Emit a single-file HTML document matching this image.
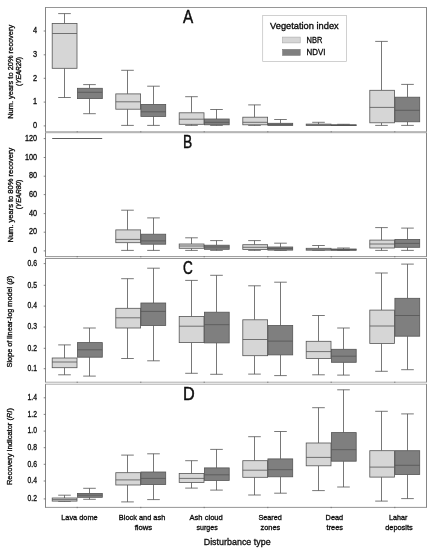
<!DOCTYPE html>
<html lang="en"><head><meta charset="utf-8"><title>Recovery by disturbance type</title>
<style>html,body{margin:0;padding:0;background:#fff}svg{display:block}text{font-family:"Liberation Sans","DejaVu Sans",sans-serif;fill:#0c0c0c;stroke:#0c0c0c;stroke-width:0.32px}</style></head><body>
<svg width="430" height="550" viewBox="0 0 430 550">
<rect width="430" height="550" fill="#fff"/>
<path d="M45.0 7.5H426.9" stroke="#8a8a8a" stroke-width="0.9"/>
<path d="M45.0 131.7H426.9" stroke="#8a8a8a" stroke-width="0.7"/>
<path d="M45.5 7.5V131.7M426.5 7.5V131.7" stroke="#777" stroke-width="0.9"/>
<line x1="43.7" y1="31.0" x2="45.5" y2="31.0" stroke="#666" stroke-width="0.8"/>
<text x="32.9" y="33.2" font-size="8.3" textLength="4.1" lengthAdjust="spacingAndGlyphs">4</text>
<line x1="43.7" y1="54.8" x2="45.5" y2="54.8" stroke="#666" stroke-width="0.8"/>
<text x="32.9" y="57.0" font-size="8.3" textLength="4.1" lengthAdjust="spacingAndGlyphs">3</text>
<line x1="43.7" y1="78.3" x2="45.5" y2="78.3" stroke="#666" stroke-width="0.8"/>
<text x="32.9" y="80.5" font-size="8.3" textLength="4.1" lengthAdjust="spacingAndGlyphs">2</text>
<line x1="43.7" y1="102.1" x2="45.5" y2="102.1" stroke="#666" stroke-width="0.8"/>
<text x="32.9" y="104.3" font-size="8.3" textLength="4.1" lengthAdjust="spacingAndGlyphs">1</text>
<line x1="43.7" y1="125.9" x2="45.5" y2="125.9" stroke="#666" stroke-width="0.8"/>
<text x="32.9" y="128.1" font-size="8.3" textLength="4.1" lengthAdjust="spacingAndGlyphs">0</text>
<line x1="77.2" y1="131.1" x2="77.2" y2="132.5" stroke="#555" stroke-width="0.6"/>
<line x1="140.8" y1="131.1" x2="140.8" y2="132.5" stroke="#555" stroke-width="0.6"/>
<line x1="204.2" y1="131.1" x2="204.2" y2="132.5" stroke="#555" stroke-width="0.6"/>
<line x1="267.8" y1="131.1" x2="267.8" y2="132.5" stroke="#555" stroke-width="0.6"/>
<line x1="331.2" y1="131.1" x2="331.2" y2="132.5" stroke="#555" stroke-width="0.6"/>
<line x1="394.8" y1="131.1" x2="394.8" y2="132.5" stroke="#555" stroke-width="0.6"/>
<g stroke="#555" stroke-width="0.8" fill="none">
<path d="M64.5 23.5V13.6M58.2 13.6H70.8"/>
<path d="M64.5 68.3V97.5M58.2 97.5H70.8"/>
<rect x="52.2" y="23.5" width="24.8" height="44.8" fill="#d6d6d6"/>
<path d="M52.2 33.5H77.0"/>
</g>
<g stroke="#555" stroke-width="0.8" fill="none">
<path d="M89.5 88.3V84.6M83.2 84.6H95.8"/>
<path d="M89.5 98.6V113.7M83.2 113.7H95.8"/>
<rect x="77.5" y="88.3" width="24.8" height="10.3" fill="#7f7f7f"/>
<path d="M77.5 92.3H102.2"/>
</g>
<g stroke="#555" stroke-width="0.8" fill="none">
<path d="M127.5 93.9V70.3M121.2 70.3H133.8"/>
<path d="M127.5 109.2V125.4M121.2 125.4H133.8"/>
<rect x="115.8" y="93.9" width="24.8" height="15.3" fill="#d6d6d6"/>
<path d="M115.8 101.8H140.6"/>
</g>
<g stroke="#555" stroke-width="0.8" fill="none">
<path d="M153.5 104.4V86.2M147.2 86.2H159.8"/>
<path d="M153.5 116.4V125.4M147.2 125.4H159.8"/>
<rect x="140.9" y="104.4" width="24.8" height="12.0" fill="#7f7f7f"/>
<path d="M140.9 111.8H165.8"/>
</g>
<g stroke="#555" stroke-width="0.8" fill="none">
<path d="M191.5 112.8V96.7M185.2 96.7H197.8"/>
<path d="M191.5 124.3V125.4M185.2 125.4H197.8"/>
<rect x="179.2" y="112.8" width="24.8" height="11.5" fill="#d6d6d6"/>
<path d="M179.2 119.2H204.1"/>
</g>
<g stroke="#555" stroke-width="0.8" fill="none">
<path d="M216.5 119.0V109.5M210.2 109.5H222.8"/>
<path d="M216.5 124.8V125.4M210.2 125.4H222.8"/>
<rect x="204.4" y="119.0" width="24.8" height="5.8" fill="#7f7f7f"/>
<path d="M204.4 122.3H229.2"/>
</g>
<g stroke="#555" stroke-width="0.8" fill="none">
<path d="M254.5 117.2V104.9M248.2 104.9H260.8"/>
<path d="M254.5 124.8V125.4M248.2 125.4H260.8"/>
<rect x="242.8" y="117.2" width="24.8" height="7.6" fill="#d6d6d6"/>
<path d="M242.8 122.3H267.6"/>
</g>
<g stroke="#555" stroke-width="0.8" fill="none">
<path d="M280.5 123.3V119.5M274.2 119.5H286.8"/>
<rect x="267.9" y="123.3" width="24.8" height="2.1" fill="#7f7f7f"/>
<path d="M267.9 124.6H292.8"/>
</g>
<g stroke="#555" stroke-width="0.8" fill="none">
<path d="M318.5 124.1V122.3M312.2 122.3H324.8"/>
<rect x="306.2" y="124.1" width="24.8" height="1.3" fill="#d6d6d6"/>
<path d="M306.2 124.8H331.1"/>
</g>
<g stroke="#555" stroke-width="0.8" fill="none">
<path d="M343.5 124.8V124.3M337.2 124.3H349.8"/>
<rect x="331.4" y="124.8" width="24.8" height="0.8" fill="#7f7f7f"/>
<path d="M331.4 125.2H356.2"/>
</g>
<g stroke="#555" stroke-width="0.8" fill="none">
<path d="M381.5 90.3V41.4M375.2 41.4H387.8"/>
<path d="M381.5 122.8V125.4M375.2 125.4H387.8"/>
<rect x="369.8" y="90.3" width="24.8" height="32.5" fill="#d6d6d6"/>
<path d="M369.8 107.4H394.6"/>
</g>
<g stroke="#555" stroke-width="0.8" fill="none">
<path d="M407.5 97.2V84.4M401.2 84.4H413.8"/>
<path d="M407.5 121.8V125.4M401.2 125.4H413.8"/>
<rect x="394.9" y="97.2" width="24.8" height="24.6" fill="#7f7f7f"/>
<path d="M394.9 110.3H419.8"/>
</g>
<text x="183.10" y="23.4" font-size="18" textLength="10.2" lengthAdjust="spacingAndGlyphs" style="stroke-width:0.45px">A</text>
<path d="M45.0 132.7H426.9" stroke="#8a8a8a" stroke-width="0.7"/>
<path d="M45.0 256.6H426.9" stroke="#8a8a8a" stroke-width="0.9"/>
<path d="M45.5 132.7V256.6M426.5 132.7V256.6" stroke="#777" stroke-width="0.9"/>
<line x1="43.7" y1="138.6" x2="45.5" y2="138.6" stroke="#666" stroke-width="0.8"/>
<text x="24.9" y="140.8" font-size="8.3" textLength="12.1" lengthAdjust="spacingAndGlyphs">120</text>
<line x1="43.7" y1="157.5" x2="45.5" y2="157.5" stroke="#666" stroke-width="0.8"/>
<text x="24.9" y="159.7" font-size="8.3" textLength="12.1" lengthAdjust="spacingAndGlyphs">100</text>
<line x1="43.7" y1="176.2" x2="45.5" y2="176.2" stroke="#666" stroke-width="0.8"/>
<text x="28.9" y="178.4" font-size="8.3" textLength="8.1" lengthAdjust="spacingAndGlyphs">80</text>
<line x1="43.7" y1="194.6" x2="45.5" y2="194.6" stroke="#666" stroke-width="0.8"/>
<text x="28.9" y="196.8" font-size="8.3" textLength="8.1" lengthAdjust="spacingAndGlyphs">60</text>
<line x1="43.7" y1="213.6" x2="45.5" y2="213.6" stroke="#666" stroke-width="0.8"/>
<text x="28.9" y="215.8" font-size="8.3" textLength="8.1" lengthAdjust="spacingAndGlyphs">40</text>
<line x1="43.7" y1="232.2" x2="45.5" y2="232.2" stroke="#666" stroke-width="0.8"/>
<text x="28.9" y="234.4" font-size="8.3" textLength="8.1" lengthAdjust="spacingAndGlyphs">20</text>
<line x1="43.7" y1="250.9" x2="45.5" y2="250.9" stroke="#666" stroke-width="0.8"/>
<text x="32.9" y="253.1" font-size="8.3" textLength="4.1" lengthAdjust="spacingAndGlyphs">0</text>
<line x1="77.2" y1="256.0" x2="77.2" y2="257.4" stroke="#555" stroke-width="0.6"/>
<line x1="140.8" y1="256.0" x2="140.8" y2="257.4" stroke="#555" stroke-width="0.6"/>
<line x1="204.2" y1="256.0" x2="204.2" y2="257.4" stroke="#555" stroke-width="0.6"/>
<line x1="267.8" y1="256.0" x2="267.8" y2="257.4" stroke="#555" stroke-width="0.6"/>
<line x1="331.2" y1="256.0" x2="331.2" y2="257.4" stroke="#555" stroke-width="0.6"/>
<line x1="394.8" y1="256.0" x2="394.8" y2="257.4" stroke="#555" stroke-width="0.6"/>
<g stroke="#555" stroke-width="0.8" fill="none">
<path d="M52.2 138.5H102.2" stroke="#4a4a4a" stroke-width="0.9"/>
</g>
<g stroke="#555" stroke-width="0.8" fill="none">
</g>
<g stroke="#555" stroke-width="0.8" fill="none">
<path d="M127.5 229.9V210.2M121.2 210.2H133.8"/>
<path d="M127.5 242.7V250.4M121.2 250.4H133.8"/>
<rect x="115.8" y="229.9" width="24.8" height="12.8" fill="#d6d6d6"/>
<path d="M115.8 239.4H140.6"/>
</g>
<g stroke="#555" stroke-width="0.8" fill="none">
<path d="M153.5 234.2V217.9M147.2 217.9H159.8"/>
<path d="M153.5 244.2V250.4M147.2 250.4H159.8"/>
<rect x="140.9" y="234.2" width="24.8" height="10.0" fill="#7f7f7f"/>
<path d="M140.9 240.9H165.8"/>
</g>
<g stroke="#555" stroke-width="0.8" fill="none">
<path d="M191.5 244.0V237.8M185.2 237.8H197.8"/>
<path d="M191.5 248.3V250.4M185.2 250.4H197.8"/>
<rect x="179.2" y="244.0" width="24.8" height="4.3" fill="#d6d6d6"/>
<path d="M179.2 246.0H204.1"/>
</g>
<g stroke="#555" stroke-width="0.8" fill="none">
<path d="M216.5 245.2V240.6M210.2 240.6H222.8"/>
<path d="M216.5 249.3V250.4M210.2 250.4H222.8"/>
<rect x="204.4" y="245.2" width="24.8" height="4.1" fill="#7f7f7f"/>
<path d="M204.4 247.0H229.2"/>
</g>
<g stroke="#555" stroke-width="0.8" fill="none">
<path d="M254.5 244.7V240.6M248.2 240.6H260.8"/>
<path d="M254.5 249.6V250.4M248.2 250.4H260.8"/>
<rect x="242.8" y="244.7" width="24.8" height="4.9" fill="#d6d6d6"/>
<path d="M242.8 247.3H267.6"/>
</g>
<g stroke="#555" stroke-width="0.8" fill="none">
<path d="M280.5 247.0V243.2M274.2 243.2H286.8"/>
<path d="M280.5 250.1V250.4M274.2 250.4H286.8"/>
<rect x="267.9" y="247.0" width="24.8" height="3.1" fill="#7f7f7f"/>
<path d="M267.9 248.5H292.8"/>
</g>
<g stroke="#555" stroke-width="0.8" fill="none">
<path d="M318.5 248.3V245.5M312.2 245.5H324.8"/>
<path d="M318.5 250.2V250.4M312.2 250.4H324.8"/>
<rect x="306.2" y="248.3" width="24.8" height="1.9" fill="#d6d6d6"/>
<path d="M306.2 249.3H331.1"/>
</g>
<g stroke="#555" stroke-width="0.8" fill="none">
<path d="M343.5 249.0V248.0M337.2 248.0H349.8"/>
<path d="M343.5 250.3V250.4M337.2 250.4H349.8"/>
<rect x="331.4" y="249.0" width="24.8" height="1.3" fill="#7f7f7f"/>
<path d="M331.4 249.6H356.2"/>
</g>
<g stroke="#555" stroke-width="0.8" fill="none">
<path d="M381.5 240.1V227.6M375.2 227.6H387.8"/>
<path d="M381.5 248.0V250.4M375.2 250.4H387.8"/>
<rect x="369.8" y="240.1" width="24.8" height="7.9" fill="#d6d6d6"/>
<path d="M369.8 244.0H394.6"/>
</g>
<g stroke="#555" stroke-width="0.8" fill="none">
<path d="M407.5 239.4V228.1M401.2 228.1H413.8"/>
<path d="M407.5 247.3V250.4M401.2 250.4H413.8"/>
<rect x="394.9" y="239.4" width="24.8" height="7.9" fill="#7f7f7f"/>
<path d="M394.9 243.4H419.8"/>
</g>
<text x="183.10" y="148.4" font-size="18" textLength="9.2" lengthAdjust="spacingAndGlyphs" style="stroke-width:0.45px">B</text>
<path d="M45.0 258.5H426.9" stroke="#8a8a8a" stroke-width="0.9"/>
<path d="M45.0 382.2H426.9" stroke="#8a8a8a" stroke-width="0.7"/>
<path d="M45.5 258.5V382.2M426.5 258.5V382.2" stroke="#777" stroke-width="0.9"/>
<line x1="43.7" y1="263.6" x2="45.5" y2="263.6" stroke="#666" stroke-width="0.8"/>
<text x="27.6" y="265.8" font-size="8.3" textLength="9.4" lengthAdjust="spacingAndGlyphs">0.6</text>
<line x1="43.7" y1="285.3" x2="45.5" y2="285.3" stroke="#666" stroke-width="0.8"/>
<text x="27.6" y="287.5" font-size="8.3" textLength="9.4" lengthAdjust="spacingAndGlyphs">0.5</text>
<line x1="43.7" y1="306.1" x2="45.5" y2="306.1" stroke="#666" stroke-width="0.8"/>
<text x="27.6" y="308.3" font-size="8.3" textLength="9.4" lengthAdjust="spacingAndGlyphs">0.4</text>
<line x1="43.7" y1="327.0" x2="45.5" y2="327.0" stroke="#666" stroke-width="0.8"/>
<text x="27.6" y="329.2" font-size="8.3" textLength="9.4" lengthAdjust="spacingAndGlyphs">0.3</text>
<line x1="43.7" y1="348.3" x2="45.5" y2="348.3" stroke="#666" stroke-width="0.8"/>
<text x="27.6" y="350.5" font-size="8.3" textLength="9.4" lengthAdjust="spacingAndGlyphs">0.2</text>
<line x1="43.7" y1="368.7" x2="45.5" y2="368.7" stroke="#666" stroke-width="0.8"/>
<text x="27.6" y="370.9" font-size="8.3" textLength="9.4" lengthAdjust="spacingAndGlyphs">0.1</text>
<line x1="77.2" y1="381.6" x2="77.2" y2="383.0" stroke="#555" stroke-width="0.6"/>
<line x1="140.8" y1="381.6" x2="140.8" y2="383.0" stroke="#555" stroke-width="0.6"/>
<line x1="204.2" y1="381.6" x2="204.2" y2="383.0" stroke="#555" stroke-width="0.6"/>
<line x1="267.8" y1="381.6" x2="267.8" y2="383.0" stroke="#555" stroke-width="0.6"/>
<line x1="331.2" y1="381.6" x2="331.2" y2="383.0" stroke="#555" stroke-width="0.6"/>
<line x1="394.8" y1="381.6" x2="394.8" y2="383.0" stroke="#555" stroke-width="0.6"/>
<g stroke="#555" stroke-width="0.8" fill="none">
<path d="M64.5 358.0V344.9M58.2 344.9H70.8"/>
<path d="M64.5 367.7V374.8M58.2 374.8H70.8"/>
<rect x="52.2" y="358.0" width="24.8" height="9.7" fill="#d6d6d6"/>
<path d="M52.2 362.0H77.0"/>
</g>
<g stroke="#555" stroke-width="0.8" fill="none">
<path d="M89.5 342.6V328.0M83.2 328.0H95.8"/>
<path d="M89.5 357.2V376.1M83.2 376.1H95.8"/>
<rect x="77.5" y="342.6" width="24.8" height="14.6" fill="#7f7f7f"/>
<path d="M77.5 349.8H102.2"/>
</g>
<g stroke="#555" stroke-width="0.8" fill="none">
<path d="M127.5 308.3V278.7M121.2 278.7H133.8"/>
<path d="M127.5 328.0V358.5M121.2 358.5H133.8"/>
<rect x="115.8" y="308.3" width="24.8" height="19.7" fill="#d6d6d6"/>
<path d="M115.8 317.8H140.6"/>
</g>
<g stroke="#555" stroke-width="0.8" fill="none">
<path d="M153.5 303.0V268.2M147.2 268.2H159.8"/>
<path d="M153.5 325.5V360.8M147.2 360.8H159.8"/>
<rect x="140.9" y="303.0" width="24.8" height="22.5" fill="#7f7f7f"/>
<path d="M140.9 311.4H165.8"/>
</g>
<g stroke="#555" stroke-width="0.8" fill="none">
<path d="M191.5 316.5V280.4M185.2 280.4H197.8"/>
<path d="M191.5 342.6V373.3M185.2 373.3H197.8"/>
<rect x="179.2" y="316.5" width="24.8" height="26.1" fill="#d6d6d6"/>
<path d="M179.2 326.2H204.1"/>
</g>
<g stroke="#555" stroke-width="0.8" fill="none">
<path d="M216.5 312.2V275.3M210.2 275.3H222.8"/>
<path d="M216.5 342.9V374.3M210.2 374.3H222.8"/>
<rect x="204.4" y="312.2" width="24.8" height="30.7" fill="#7f7f7f"/>
<path d="M204.4 324.7H229.2"/>
</g>
<g stroke="#555" stroke-width="0.8" fill="none">
<path d="M254.5 319.8V285.8M248.2 285.8H260.8"/>
<path d="M254.5 355.7V374.1M248.2 374.1H260.8"/>
<rect x="242.8" y="319.8" width="24.8" height="35.9" fill="#d6d6d6"/>
<path d="M242.8 339.5H267.6"/>
</g>
<g stroke="#555" stroke-width="0.8" fill="none">
<path d="M280.5 325.5V282.2M274.2 282.2H286.8"/>
<path d="M280.5 354.9V375.6M274.2 375.6H286.8"/>
<rect x="267.9" y="325.5" width="24.8" height="29.4" fill="#7f7f7f"/>
<path d="M267.9 341.1H292.8"/>
</g>
<g stroke="#555" stroke-width="0.8" fill="none">
<path d="M318.5 341.3V315.5M312.2 315.5H324.8"/>
<path d="M318.5 358.5V374.8M312.2 374.8H324.8"/>
<rect x="306.2" y="341.3" width="24.8" height="17.2" fill="#d6d6d6"/>
<path d="M306.2 351.6H331.1"/>
</g>
<g stroke="#555" stroke-width="0.8" fill="none">
<path d="M343.5 349.3V328.0M337.2 328.0H349.8"/>
<path d="M343.5 362.3V375.1M337.2 375.1H349.8"/>
<rect x="331.4" y="349.3" width="24.8" height="13.0" fill="#7f7f7f"/>
<path d="M331.4 356.2H356.2"/>
</g>
<g stroke="#555" stroke-width="0.8" fill="none">
<path d="M381.5 310.1V273.0M375.2 273.0H387.8"/>
<path d="M381.5 343.4V371.3M375.2 371.3H387.8"/>
<rect x="369.8" y="310.1" width="24.8" height="33.3" fill="#d6d6d6"/>
<path d="M369.8 326.0H394.6"/>
</g>
<g stroke="#555" stroke-width="0.8" fill="none">
<path d="M407.5 298.3V264.1M401.2 264.1H413.8"/>
<path d="M407.5 336.2V369.7M401.2 369.7H413.8"/>
<rect x="394.9" y="298.3" width="24.8" height="37.9" fill="#7f7f7f"/>
<path d="M394.9 315.5H419.8"/>
</g>
<text x="183.10" y="274.4" font-size="18" textLength="9.8" lengthAdjust="spacingAndGlyphs" style="stroke-width:0.45px">C</text>
<path d="M45.0 384.2H426.9" stroke="#8a8a8a" stroke-width="0.7"/>
<path d="M45.0 507.4H426.9" stroke="#8a8a8a" stroke-width="0.9"/>
<path d="M45.5 384.2V507.4M426.5 384.2V507.4" stroke="#777" stroke-width="0.9"/>
<line x1="43.7" y1="397.8" x2="45.5" y2="397.8" stroke="#666" stroke-width="0.8"/>
<text x="27.6" y="400.0" font-size="8.3" textLength="9.4" lengthAdjust="spacingAndGlyphs">1.4</text>
<line x1="43.7" y1="414.4" x2="45.5" y2="414.4" stroke="#666" stroke-width="0.8"/>
<text x="27.6" y="416.6" font-size="8.3" textLength="9.4" lengthAdjust="spacingAndGlyphs">1.2</text>
<line x1="43.7" y1="431.1" x2="45.5" y2="431.1" stroke="#666" stroke-width="0.8"/>
<text x="27.6" y="433.3" font-size="8.3" textLength="9.4" lengthAdjust="spacingAndGlyphs">1.0</text>
<line x1="43.7" y1="447.7" x2="45.5" y2="447.7" stroke="#666" stroke-width="0.8"/>
<text x="27.6" y="449.9" font-size="8.3" textLength="9.4" lengthAdjust="spacingAndGlyphs">0.8</text>
<line x1="43.7" y1="464.3" x2="45.5" y2="464.3" stroke="#666" stroke-width="0.8"/>
<text x="27.6" y="466.5" font-size="8.3" textLength="9.4" lengthAdjust="spacingAndGlyphs">0.6</text>
<line x1="43.7" y1="481.0" x2="45.5" y2="481.0" stroke="#666" stroke-width="0.8"/>
<text x="27.6" y="483.2" font-size="8.3" textLength="9.4" lengthAdjust="spacingAndGlyphs">0.4</text>
<line x1="43.7" y1="498.9" x2="45.5" y2="498.9" stroke="#666" stroke-width="0.8"/>
<text x="27.6" y="501.1" font-size="8.3" textLength="9.4" lengthAdjust="spacingAndGlyphs">0.2</text>
<line x1="77.2" y1="506.8" x2="77.2" y2="508.2" stroke="#555" stroke-width="0.6"/>
<line x1="140.8" y1="506.8" x2="140.8" y2="508.2" stroke="#555" stroke-width="0.6"/>
<line x1="204.2" y1="506.8" x2="204.2" y2="508.2" stroke="#555" stroke-width="0.6"/>
<line x1="267.8" y1="506.8" x2="267.8" y2="508.2" stroke="#555" stroke-width="0.6"/>
<line x1="331.2" y1="506.8" x2="331.2" y2="508.2" stroke="#555" stroke-width="0.6"/>
<line x1="394.8" y1="506.8" x2="394.8" y2="508.2" stroke="#555" stroke-width="0.6"/>
<g stroke="#555" stroke-width="0.8" fill="none">
<path d="M64.5 498.0V495.2M58.2 495.2H70.8"/>
<path d="M64.5 501.1V501.4M58.2 501.4H70.8"/>
<rect x="52.2" y="498.0" width="24.8" height="3.1" fill="#d6d6d6"/>
<path d="M52.2 499.6H77.0"/>
</g>
<g stroke="#555" stroke-width="0.8" fill="none">
<path d="M89.5 493.4V488.3M83.2 488.3H95.8"/>
<path d="M89.5 497.3V499.3M83.2 499.3H95.8"/>
<rect x="77.5" y="493.4" width="24.8" height="3.9" fill="#7f7f7f"/>
<path d="M77.5 495.2H102.2"/>
</g>
<g stroke="#555" stroke-width="0.8" fill="none">
<path d="M127.5 472.7V455.1M121.2 455.1H133.8"/>
<path d="M127.5 485.0V501.9M121.2 501.9H133.8"/>
<rect x="115.8" y="472.7" width="24.8" height="12.3" fill="#d6d6d6"/>
<path d="M115.8 479.9H140.6"/>
</g>
<g stroke="#555" stroke-width="0.8" fill="none">
<path d="M153.5 472.0V453.8M147.2 453.8H159.8"/>
<path d="M153.5 484.5V499.6M147.2 499.6H159.8"/>
<rect x="140.9" y="472.0" width="24.8" height="12.5" fill="#7f7f7f"/>
<path d="M140.9 478.4H165.8"/>
</g>
<g stroke="#555" stroke-width="0.8" fill="none">
<path d="M191.5 473.5V460.7M185.2 460.7H197.8"/>
<path d="M191.5 482.4V488.1M185.2 488.1H197.8"/>
<rect x="179.2" y="473.5" width="24.8" height="8.9" fill="#d6d6d6"/>
<path d="M179.2 478.4H204.1"/>
</g>
<g stroke="#555" stroke-width="0.8" fill="none">
<path d="M216.5 467.9V449.4M210.2 449.4H222.8"/>
<path d="M216.5 480.4V490.1M210.2 490.1H222.8"/>
<rect x="204.4" y="467.9" width="24.8" height="12.5" fill="#7f7f7f"/>
<path d="M204.4 474.8H229.2"/>
</g>
<g stroke="#555" stroke-width="0.8" fill="none">
<path d="M254.5 460.7V436.7M248.2 436.7H260.8"/>
<path d="M254.5 477.3V495.0M248.2 495.0H260.8"/>
<rect x="242.8" y="460.7" width="24.8" height="16.6" fill="#d6d6d6"/>
<path d="M242.8 470.2H267.6"/>
</g>
<g stroke="#555" stroke-width="0.8" fill="none">
<path d="M280.5 458.9V431.5M274.2 431.5H286.8"/>
<path d="M280.5 476.8V493.2M274.2 493.2H286.8"/>
<rect x="267.9" y="458.9" width="24.8" height="17.9" fill="#7f7f7f"/>
<path d="M267.9 469.7H292.8"/>
</g>
<g stroke="#555" stroke-width="0.8" fill="none">
<path d="M318.5 443.0V407.7M312.2 407.7H324.8"/>
<path d="M318.5 465.8V490.6M312.2 490.6H324.8"/>
<rect x="306.2" y="443.0" width="24.8" height="22.8" fill="#d6d6d6"/>
<path d="M306.2 457.4H331.1"/>
</g>
<g stroke="#555" stroke-width="0.8" fill="none">
<path d="M343.5 432.6V389.8M337.2 389.8H349.8"/>
<path d="M343.5 461.2V487.0M337.2 487.0H349.8"/>
<rect x="331.4" y="432.6" width="24.8" height="28.6" fill="#7f7f7f"/>
<path d="M331.4 449.7H356.2"/>
</g>
<g stroke="#555" stroke-width="0.8" fill="none">
<path d="M381.5 450.7V411.3M375.2 411.3H387.8"/>
<path d="M381.5 477.1V501.1M375.2 501.1H387.8"/>
<rect x="369.8" y="450.7" width="24.8" height="26.4" fill="#d6d6d6"/>
<path d="M369.8 467.1H394.6"/>
</g>
<g stroke="#555" stroke-width="0.8" fill="none">
<path d="M407.5 450.7V413.9M401.2 413.9H413.8"/>
<path d="M407.5 474.5V498.6M401.2 498.6H413.8"/>
<rect x="394.9" y="450.7" width="24.8" height="23.8" fill="#7f7f7f"/>
<path d="M394.9 465.3H419.8"/>
</g>
<text x="183.10" y="400.4" font-size="18" textLength="11.7" lengthAdjust="spacingAndGlyphs" style="stroke-width:0.45px">D</text>
<rect x="262.7" y="15.5" width="83.7" height="46" fill="#fff" stroke="#bdbdbd" stroke-width="0.7"/>
<text x="270.1" y="28.8" font-size="9.7" textLength="68.6" lengthAdjust="spacingAndGlyphs" style="stroke-width:0.35px">Vegetation index</text>
<rect x="282.6" y="37.1" width="17.6" height="5.8" fill="#d6d6d6" stroke="#a8a8a8" stroke-width="0.6"/>
<rect x="282.6" y="49.4" width="17.6" height="5.9" fill="#7f7f7f" stroke="#777" stroke-width="0.6"/>
<text x="306.6" y="42.7" font-size="8.8" textLength="15.8" lengthAdjust="spacingAndGlyphs">NBR</text>
<text x="306.6" y="55.3" font-size="8.8" textLength="18.9" lengthAdjust="spacingAndGlyphs">NDVI</text>
<text transform="translate(12.6 71.8) rotate(-90)" font-size="7.8" text-anchor="middle" textLength="94.0" lengthAdjust="spacingAndGlyphs">Num. years to 20% recovery</text>
<text transform="translate(20.9 71.5) rotate(-90)" font-size="6.7" text-anchor="middle" textLength="29.0" lengthAdjust="spacingAndGlyphs">(<tspan font-style="italic">YEAR20</tspan>)</text>
<text transform="translate(12.6 195.1) rotate(-90)" font-size="7.8" text-anchor="middle" textLength="94.8" lengthAdjust="spacingAndGlyphs">Num. years to 80% recovery</text>
<text transform="translate(20.9 194.6) rotate(-90)" font-size="6.7" text-anchor="middle" textLength="29.5" lengthAdjust="spacingAndGlyphs">(<tspan font-style="italic">YEAR80</tspan>)</text>
<text transform="translate(12.3 321.6) rotate(-90)" font-size="7.8" text-anchor="middle" textLength="91.6" lengthAdjust="spacingAndGlyphs">Slope of linear-log model (<tspan font-style="italic">β</tspan>)</text>
<text transform="translate(12.0 446.6) rotate(-90)" font-size="7.8" text-anchor="middle" textLength="77.0" lengthAdjust="spacingAndGlyphs">Recovery Indicator (<tspan font-style="italic">RI</tspan>)</text>
<text x="61.2" y="519.9" font-size="7.7" textLength="36.5" lengthAdjust="spacingAndGlyphs">Lava dome</text>
<text x="118.8" y="519.9" font-size="7.7" textLength="46.5" lengthAdjust="spacingAndGlyphs">Block and ash</text>
<text x="134.7" y="529.8" font-size="7.7" textLength="17.5" lengthAdjust="spacingAndGlyphs">flows</text>
<text x="189.5" y="519.9" font-size="7.7" textLength="33.3" lengthAdjust="spacingAndGlyphs">Ash cloud</text>
<text x="196.6" y="529.8" font-size="7.7" textLength="21.1" lengthAdjust="spacingAndGlyphs">surges</text>
<text x="258.5" y="519.9" font-size="7.7" textLength="23.3" lengthAdjust="spacingAndGlyphs">Seared</text>
<text x="260.5" y="529.8" font-size="7.7" textLength="19.7" lengthAdjust="spacingAndGlyphs">zones</text>
<text x="325.6" y="519.9" font-size="7.7" textLength="17.5" lengthAdjust="spacingAndGlyphs">Dead</text>
<text x="326.6" y="529.8" font-size="7.7" textLength="16.3" lengthAdjust="spacingAndGlyphs">trees</text>
<text x="389.1" y="519.9" font-size="7.7" textLength="18.2" lengthAdjust="spacingAndGlyphs">Lahar</text>
<text x="385.2" y="529.8" font-size="7.7" textLength="27.5" lengthAdjust="spacingAndGlyphs">deposits</text>
<text x="203.7" y="545.1" font-size="9.8" textLength="67" lengthAdjust="spacingAndGlyphs">Disturbance type</text>
</svg></body></html>
